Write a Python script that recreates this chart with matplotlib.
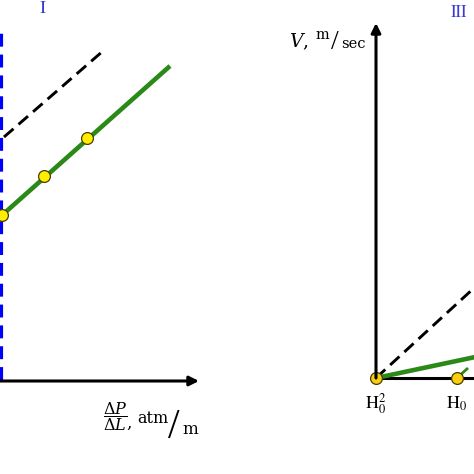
import matplotlib
matplotlib.use('Agg')
import matplotlib.pyplot as plt

plt.rcParams['mathtext.fontset'] = 'dejavuserif'
plt.rcParams['font.family'] = ['DejaVu Serif']

# Schematic coordinates (image units, y measured upward from the bottom edge)
# Panel I
p1_axis_x = [0, 199]
p1_axis_y = [93, 93]
p1_wall_x = [1.5, 1.5]
p1_wall_y = [94, 441]
p1_dash_x = [4, 103]
p1_dash_y = [337, 423]
p1_green_x = [0, 170]
p1_green_y = [257, 408]
p1_pts_x = [2, 44, 87]
p1_pts_y = [259, 298, 336]

# Panel III
p3_vaxis_x = [376, 376]
p3_vaxis_y = [96, 451]
p3_haxis_x = [376, 480]
p3_haxis_y = [96, 96]
p3_dash_x = [376, 474]
p3_dash_y = [96, 186]
p3_green_x = [376, 480]
p3_green_y = [96, 118]
p3_green2_x = [457, 468]
p3_green2_y = [96, 106]
p3_pts_x = [376, 457]
p3_pts_y = [96, 96]
p3_pt_labels = [r'$\mathrm{H}_0^2$', r'$\mathrm{H}_0$']

green = '#2b8a17'
blue = '#0000ff'

fig = plt.figure(figsize=(4.74, 4.74), dpi=100)
ax = fig.add_axes([0, 0, 1, 1])
ax.set_xlim(0, 474)
ax.set_ylim(0, 474)
ax.axis('off')

# ---- panel I ----
ax.annotate('', xy=(p1_axis_x[1], p1_axis_y[1]), xytext=(p1_axis_x[0], p1_axis_y[0]),
            arrowprops=dict(arrowstyle='-|>', color='black', lw=2.2, mutation_scale=14,
                            shrinkA=0, shrinkB=0))
ax.plot(p1_wall_x, p1_wall_y, color=blue, lw=3.0, dashes=(3.1, 1.9), solid_capstyle='butt')
ax.plot(p1_dash_x, p1_dash_y, color='black', lw=2.1, dashes=(4.3, 2.3))
ax.plot(p1_green_x, p1_green_y, color=green, lw=3.3, solid_capstyle='butt')
ax.plot(p1_pts_x, p1_pts_y, 'o', ms=8.5, mfc='#ffee00', mec='#4a3c00', mew=0.9)
ax.text(43, 465, 'I', color='#3a3ad8', fontsize=13, ha='center', va='center',
        family='STIXGeneral')

# x-axis label: dP/dL, atm/m
ax.text(115, 57, r'$\dfrac{\Delta P}{\Delta L}$', fontsize=11.5, ha='center', va='center')
ax.text(126, 46, ',', fontsize=12, ha='left', va='baseline')
ax.text(137, 51, 'atm', fontsize=11.5, ha='left', va='baseline')
ax.text(168, 36, '/', fontsize=30, ha='left', va='baseline', family='Liberation Serif')
ax.text(182, 40, 'm', fontsize=12, ha='left', va='baseline')

# ---- panel III ----
ax.annotate('', xy=(p3_vaxis_x[1], p3_vaxis_y[1]), xytext=(p3_vaxis_x[0], p3_vaxis_y[0]),
            arrowprops=dict(arrowstyle='-|>', color='black', lw=2.2, mutation_scale=14,
                            shrinkA=0, shrinkB=0))
ax.plot(p3_haxis_x, p3_haxis_y, color='black', lw=2.2)
ax.plot(p3_dash_x, p3_dash_y, color='black', lw=2.1, dashes=(4.3, 2.3))
ax.plot(p3_green_x, p3_green_y, color=green, lw=3.3, solid_capstyle='butt')
ax.plot(p3_green2_x, p3_green2_y, color=green, lw=2.0, solid_capstyle='butt')
ax.plot(p3_pts_x, p3_pts_y, 'o', ms=8.5, mfc='#f7cf10', mec='#4a3c00', mew=0.9)
for x, lab in zip(p3_pts_x, p3_pt_labels):
    ax.text(x, 70, lab, fontsize=13, ha='center', va='center', math_fontfamily='stix')
ax.text(459, 461, 'III', color='#3a3ad8', fontsize=12, ha='center', va='center',
        family='STIXGeneral')

# y-axis label: V, m/sec
ax.text(289, 427, r'$V$,', fontsize=13.5, ha='left', va='baseline')
ax.text(316, 435, 'm', fontsize=10.5, ha='left', va='baseline')
ax.text(331, 425, '/', fontsize=20, ha='left', va='baseline', family='Liberation Serif')
ax.text(341, 426, 'sec', fontsize=10.5, ha='left', va='baseline')

fig.savefig('out.png', dpi=100)
